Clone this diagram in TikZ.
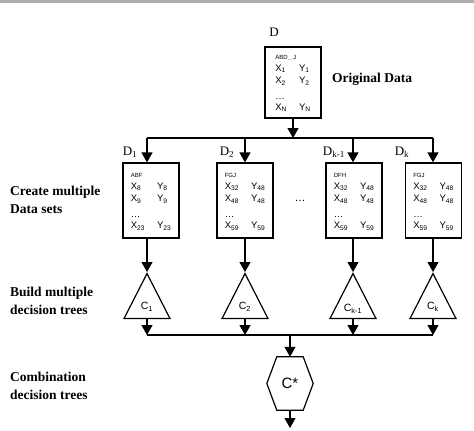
\documentclass[tikz,border=0pt]{standalone}
\usepackage{fontspec}
\setmainfont{Liberation Serif}
\newfontfamily\boxfont{Liberation Sans}
\usetikzlibrary{arrows.meta,shapes.geometric}

\newcommand{\datarows}[7]{%
  \begin{tabular}{@{}l@{\hspace{12pt}}l@{}}
    \multicolumn{2}{@{}l@{}}{\fontsize{6}{7}\selectfont #1}\\[-1pt]
    X\textsubscript{#2} & Y\textsubscript{#3}\\
    X\textsubscript{#4} & Y\textsubscript{#5}\\[3pt]
    \ldots & \\[-1pt]
    X\textsubscript{#6} & Y\textsubscript{#7}
  \end{tabular}}

\begin{document}
\begin{tikzpicture}[x=1pt, y=-1pt,
    databox/.style={draw, line width=1.2pt, minimum width=56pt, minimum height=75pt,
      inner sep=0pt, font=\boxfont\fontsize{9.5}{12.5}\selectfont},
    treebox/.style={draw, line width=1.2pt, isosceles triangle, isosceles triangle stretches,
      shape border rotate=90, minimum width=46pt, minimum height=45pt, inner sep=1pt,
      font=\boxfont\fontsize{10.5}{11}\selectfont},
    steplabel/.style={anchor=west, align=left, inner sep=0pt, font=\bfseries\fontsize{13.5}{18}\selectfont},
    setname/.style={font=\fontsize{13}{14}\selectfont},
    flow/.style={line width=1.2pt, -{Triangle[length=10pt,width=11pt]}},
    bus/.style={line width=1.2pt}]

    \useasboundingbox (0,0) rectangle (474,431);
    \fill[gray!65] (0,0) rectangle (474,3);

    % original data
    \node[setname] (dname) at (274,32) {D};
    \node[databox, minimum height=71pt] (orig) at (293,82.5)
      {\datarows{ABD\textsubscript{\ldots}J}{1}{1}{2}{2}{N}{N}};
    \node[steplabel] (origlabel) at (332,79) {Original Data};

    % step labels
    \node[steplabel] (steps1) at (10,200) {Create multiple\\Data sets};
    \node[steplabel] (steps2) at (10,301) {Build multiple\\decision trees};
    \node[steplabel] (steps3) at (10,386) {Combination\\decision trees};

    % data sets
    \node[setname] (dname1) at (130,152) {D\textsubscript{1}};
    \node[setname] (dname2) at (227,152) {D\textsubscript{2}};
    \node[setname] (dname3) at (334,152) {D\textsubscript{k-1}};
    \node[setname] (dname4) at (402,152) {D\textsubscript{k}};

    \node[databox] (data1) at (151,200.5) {\datarows{ABF}{8}{8}{9}{9}{23}{23}};
    \node[databox] (data2) at (245,200.5) {\datarows{FGJ}{32}{48}{48}{48}{59}{59}};
    \node[databox] (data3) at (354,200.5) {\datarows{DFH}{32}{48}{48}{48}{59}{59}};
    \node[databox] (data4) at (433.5,200.5) {\datarows{FGJ}{32}{48}{48}{48}{59}{59}};
    \node[font=\boxfont\fontsize{11}{12}\selectfont] (gap) at (300,201) {\ldots};

    % trees
    \node[treebox, anchor=apex] (tree1) at (147,272) {C\textsubscript{1}};
    \node[treebox, anchor=apex] (tree2) at (245,272) {C\textsubscript{2}};
    \node[treebox, anchor=apex] (tree3) at (353,272) {C\textsubscript{k-1}};
    \node[treebox, anchor=apex] (tree4) at (433,272) {C\textsubscript{k}};

    \node[inner sep=0pt, minimum width=46pt, minimum height=53pt,
      font=\boxfont\fontsize{15}{16}\selectfont] (comb) at (290,383.5) {C*};
    \draw[line width=1.2pt] (comb.west) -- ([xshift=10pt]comb.north west)
      -- ([xshift=-10pt]comb.north east) -- (comb.east)
      -- ([xshift=-10pt]comb.south east) -- ([xshift=10pt]comb.south west) -- cycle;

    % connectors
    \coordinate (split) at (293,138);
    \coordinate (join) at (290,335);
    \coordinate (out) at (290,428);
    \foreach \n/\x in {1/147,2/245,3/353,4/433} {
      \coordinate (split\n) at (\x,138);
      \coordinate (join\n) at (\x,335);
    }
    \draw[flow] (orig.south) -- (split);
    \draw[bus] (split1) -- (split4);
    \draw[bus] (join1) -- (join4);
    \foreach \n in {1,...,4} {
      \draw[flow] (split\n) -- (split\n |- data\n.north);
      \draw[flow] (split\n |- data\n.south) -- (tree\n.apex);
      \draw[flow] (tree\n.lower side) -- (join\n);
    }
    \draw[flow] (join) -- (comb.north);
    \draw[flow] (comb.south) -- (out);
  \end{tikzpicture}
\end{document}
